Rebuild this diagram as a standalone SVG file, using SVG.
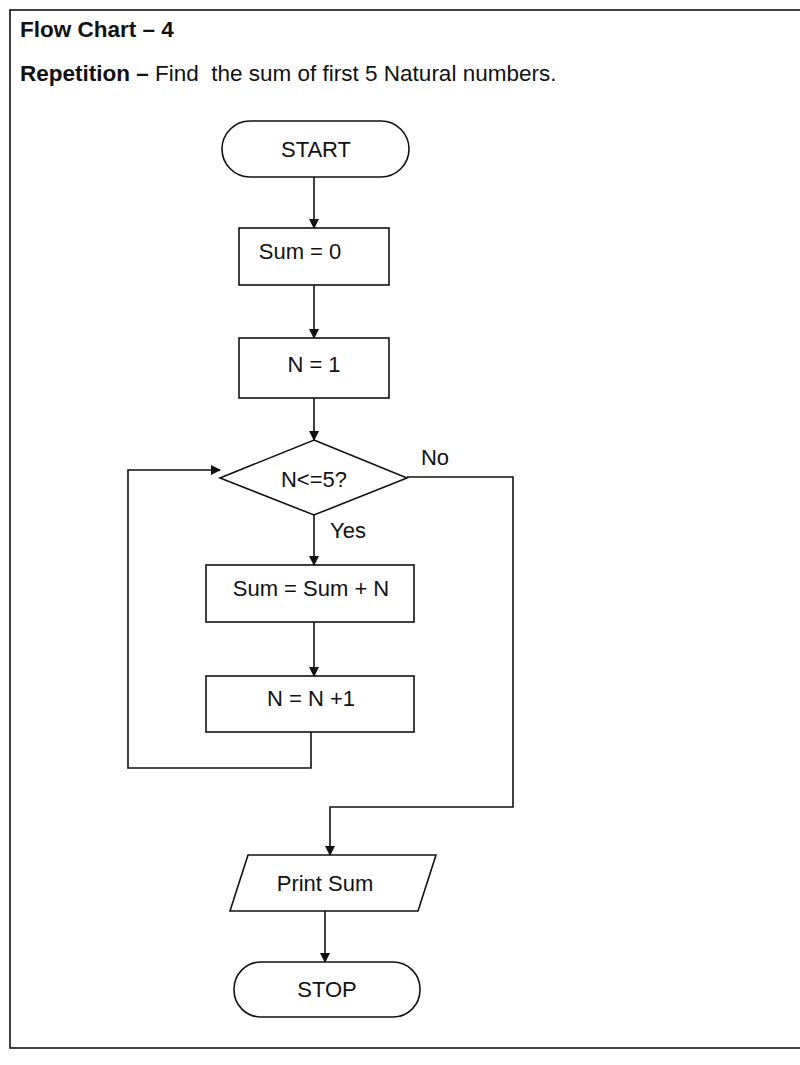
<svg xmlns="http://www.w3.org/2000/svg" width="800" height="1065" viewBox="0 0 800 1065">
<style>
.s{fill:#fff;stroke:#111;stroke-width:1.6}
.t{font-family:"Liberation Sans",Arial,sans-serif;font-size:22px;fill:#111;text-anchor:middle;dominant-baseline:central}
.l{fill:none;stroke:#111;stroke-width:1.6}
</style>
<defs><marker id="a" markerWidth="10" markerHeight="10" refX="9" refY="5" orient="auto" markerUnits="userSpaceOnUse"><path d="M0,0 L10,5 L0,10 Z" fill="#111"/></marker></defs>
<rect width="800" height="1065" fill="#fff"/>
<rect x="10" y="10" width="800" height="1038" class="l"/>
<text x="20" y="37" style="font-family:'Liberation Sans',Arial,sans-serif;font-size:22.5px;font-weight:bold" fill="#111">Flow Chart – 4</text>
<text x="20" y="81" style="font-family:'Liberation Sans',Arial,sans-serif;font-size:22.5px;white-space:pre" fill="#111"><tspan font-weight="bold">Repetition –</tspan> Find  the sum of first 5 Natural numbers.</text>
<g id="connectors">
<path class="l" d="M314,177 V228" marker-end="url(#a)"/>
<path class="l" d="M314,285 V338" marker-end="url(#a)"/>
<path class="l" d="M314,398 V440" marker-end="url(#a)"/>
<path class="l" d="M314,515 V565" marker-end="url(#a)"/>
<path class="l" d="M314,622 V676" marker-end="url(#a)"/>
<path class="l" d="M311,732 V768 H128 V470 H220" marker-end="url(#a)"/>
<path class="l" d="M407,477 H513 V807 H330 V855" marker-end="url(#a)"/>
<path class="l" d="M325,911 V962" marker-end="url(#a)"/>
<text class="t" x="435" y="457">No</text>
<text class="t" x="348" y="530">Yes</text>
</g>
<g id="start"><rect class="s" x="222" y="121" width="187" height="56" rx="28"/><text class="t" x="316" y="149">START</text></g>
<g id="sum0"><rect class="s" x="239" y="228" width="150" height="57"/><text class="t" x="300" y="251">Sum = 0</text></g>
<g id="n1"><rect class="s" x="239" y="338" width="150" height="60"/><text class="t" x="314" y="364">N = 1</text></g>
<g id="cond"><polygon class="s" points="314,440 407,478 314,515 220,478"/><text class="t" x="314" y="479">N&lt;=5?</text></g>
<g id="add"><rect class="s" x="206" y="565" width="208" height="57"/><text class="t" x="311" y="588">Sum = Sum + N</text></g>
<g id="inc"><rect class="s" x="206" y="676" width="208" height="56"/><text class="t" x="311" y="698">N = N +1</text></g>
<g id="print"><polygon class="s" points="248,855 436,855 418,911 230,911"/><text class="t" x="325" y="883">Print Sum</text></g>
<g id="stop"><rect class="s" x="234" y="962" width="186" height="55" rx="27"/><text class="t" x="327" y="989">STOP</text></g>
</svg>
